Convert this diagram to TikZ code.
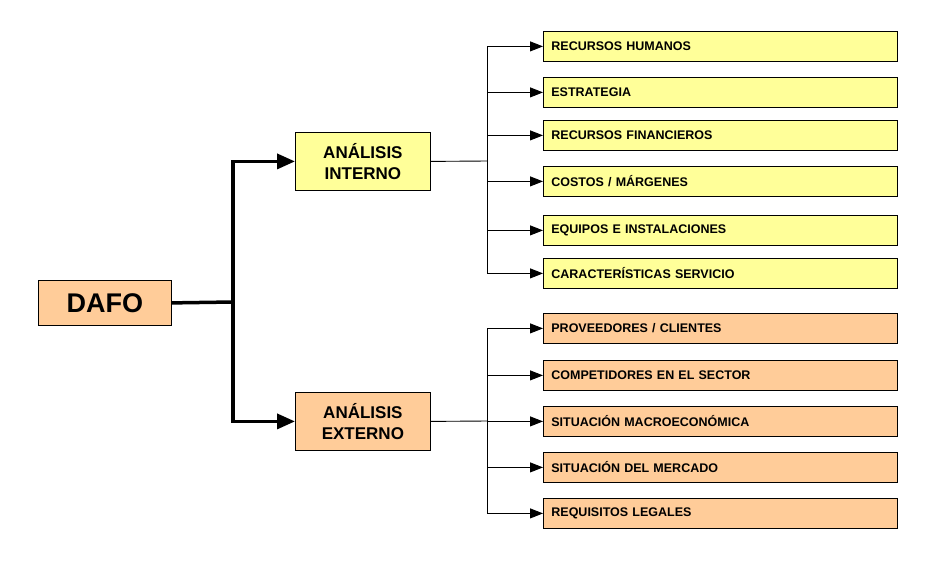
\documentclass[tikz,border=0pt]{standalone}
\usepackage{fontspec}
\setmainfont{Liberation Sans}
\usetikzlibrary{arrows.meta}
\definecolor{yel}{HTML}{FFFF99}
\definecolor{ora}{HTML}{FFCC99}
\begin{document}
\begin{tikzpicture}[x=1pt,y=-1pt,
  box/.style={draw,line width=0.8pt,anchor=north west,inner sep=0pt},
  leaf/.style={box,minimum width=354pt,minimum height=30pt,font=\bfseries\fontsize{12.5}{14}\selectfont,text width=338pt,align=left,inner xsep=8pt},
  mid/.style={box,minimum width=135pt,minimum height=58pt,font=\bfseries\fontsize{17}{21}\selectfont,align=center,fill=yel},
  thin/.style={line width=0.9pt,-{Triangle[length=13pt,width=10pt]}},
  thick/.style={line width=3.5pt,-{Triangle[length=18pt,width=15pt]}}]
\useasboundingbox (0,0) rectangle (952,584);
\node[box,fill=ora,minimum width=133pt,minimum height=45pt,font=\bfseries\fontsize{27}{30}\selectfont] (dafo) at (38,280) {DAFO};
\node[mid] (ai) at (295,132) {ANÁLISIS\\INTERNO};
\node[mid,fill=ora] (ae) at (295,392) {ANÁLISIS\\EXTERNO};
\foreach \n/\y/\t in {i1/31/{RECURSOS HUMANOS},i2/77/{ESTRATEGIA},i3/120/{RECURSOS FINANCIEROS},i4/166/{COSTOS / MÁRGENES},i5/215/{EQUIPOS E INSTALACIONES},i6/258/{CARACTERÍSTICAS SERVICIO}}
  \node[leaf,fill=yel] (\n) at (543,\y) {\t};
\foreach \n/\y/\t in {e1/313/{PROVEEDORES / CLIENTES},e2/360/{COMPETIDORES EN EL SECTOR},e3/406/{SITUACIÓN MACROECONÓMICA},e4/452/{SITUACIÓN DEL MERCADO},e5/498/{REQUISITOS LEGALES}}
  \node[leaf,fill=ora] (\n) at (543,\y) {\t};
\coordinate (b) at (233,302);
\draw[line width=3.5pt] (dafo.east) -- (b);
\draw[thick] (b) |- (ai.west);
\draw[thick] (b) |- (ae.west);
\coordinate (bi) at (487,161);
\coordinate (be) at (487,421);
\draw[line width=0.9pt] (ai.east) -- (bi);
\draw[line width=0.9pt] (ae.east) -- (be);
\foreach \n in {i1,i2,i3,i4,i5,i6} \draw[thin] (bi) |- (\n.west);
\foreach \n in {e1,e2,e3,e4,e5} \draw[thin] (be) |- (\n.west);
\end{tikzpicture}
\end{document}
